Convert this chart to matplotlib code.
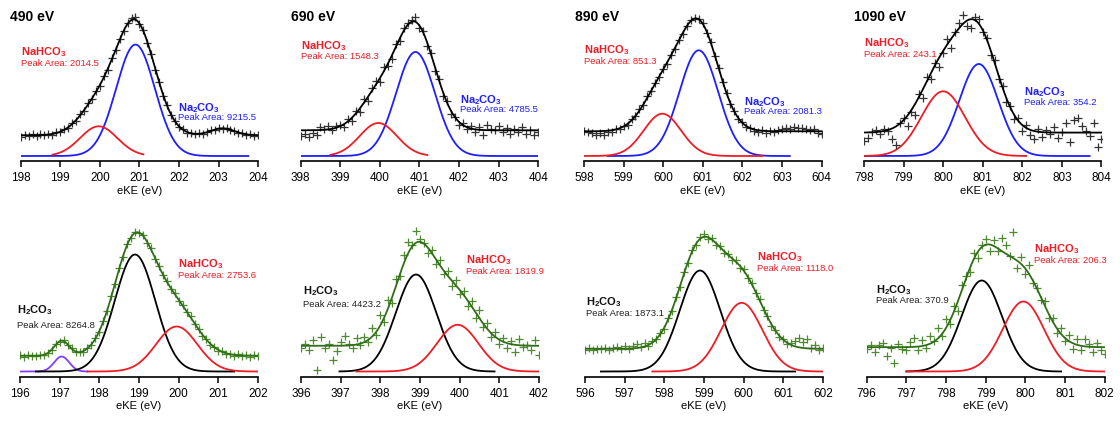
import numpy as np
import matplotlib.pyplot as plt

plt.rcParams['font.family'] = ['Liberation Sans', 'DejaVu Sans']
plt.rcParams['mathtext.fontset'] = 'custom'
plt.rcParams['mathtext.rm'] = 'Liberation Sans'
plt.rcParams['mathtext.bf'] = 'Liberation Sans:bold'

W, H = 1120, 428

# photon energies and kinetic energy windows
photon = ['490 eV', '690 eV', '890 eV', '1090 eV']
x0_top = [198, 398, 598, 798]
x0_bot = [196, 396, 596, 796]
step = 0.1  # spectra sampled every 0.1 eV over a 6 eV window

# measured spectra, top row (arb. units)
top_490 = [19.5, 21.5, 20.2, 21.8, 20.5, 21.6, 20.8, 22.4, 21.5, 23.6,
           24.0, 27.0, 28.2, 33.0, 35.2, 41.8, 45.0, 52.6, 56.8, 65.1,
           70.2, 79.8, 86.4, 97.8, 105.6, 117.3, 124.6, 133.4, 137.8, 139.5,
           132.0, 126.2, 113.2, 102.1, 86.5, 74.2, 60.0, 51.0, 40.6, 35.3,
           29.0, 26.8, 23.5, 23.4, 21.6, 22.7, 22.0, 24.4, 25.6, 25.8,
           28.2, 27.1, 28.0, 25.7, 25.5, 22.9, 23.0, 21.0, 22.0, 20.2, 21.3]
top_690 = [20.5, 22.0, 19.0, 23.5, 20.8, 28.8, 27.5, 30.0, 26.0, 29.8,
           31.5, 28.6, 36.8, 35.0, 45.2, 44.0, 57.5, 55.0, 68.0, 75.0,
           74.5, 89.0, 90.0, 97.0, 112.5, 115.0, 128.0, 133.5, 136.5, 139.0,
           128.0, 125.5, 110.0, 103.5, 85.0, 77.0, 60.0, 55.5, 42.0, 39.5,
           31.5, 33.0, 27.0, 30.5, 24.0, 29.0, 21.5, 31.0, 27.5, 26.0,
           30.5, 24.0, 28.0, 22.5, 27.5, 24.5, 29.0, 22.0, 26.5, 21.0, 24.5]
top_890 = [25.5, 24.0, 23.2, 21.5, 22.8, 21.0, 24.4, 24.0, 27.5, 27.0,
           30.5, 31.5, 37.0, 40.0, 47.0, 51.5, 59.8, 65.2, 73.5, 78.8,
           87.5, 92.5, 101.2, 107.0, 116.0, 122.5, 130.5, 136.0, 138.5, 137.0,
           133.0, 123.5, 114.5, 100.5, 88.5, 74.0, 63.5, 52.0, 45.0, 37.2,
           33.8, 29.2, 28.5, 25.5, 24.2, 26.0, 23.5, 25.0, 24.2, 26.5,
           27.0, 28.5, 27.5, 29.0, 27.8, 28.5, 27.0, 26.0, 27.2, 23.5, 22.5]
top_1090 = [15.5, 18.0, 24.5, 26.0, 22.0, 27.0, 25.5, 17.0, 11.5, 33.5,
            38.0, 30.5, 44.0, 41.5, 62.5, 58.0, 79.0, 77.5, 93.0, 89.0,
            103.0, 117.0, 108.5, 124.5, 133.0, 141.0, 130.5, 128.0, 139.0, 137.5,
            124.0, 118.5, 101.0, 96.5, 77.5, 70.0, 54.0, 50.5, 37.5, 38.0,
            25.0, 31.0, 21.5, 17.5, 27.5, 19.0, 26.0, 22.5, 29.5, 18.0,
            24.5, 33.5, 14.5, 36.5, 38.0, 30.0, 25.0, 20.5, 33.0, 9.5, 17.0]

# measured spectra, bottom row (arb. units)
bot_490 = [16.5, 15.0, 16.8, 15.2, 16.0, 17.0, 16.2, 19.0, 21.5, 27.5,
           29.5, 31.2, 26.5, 23.8, 19.2, 20.0, 19.8, 24.0, 26.5, 33.8,
           39.8, 51.0, 60.5, 75.5, 87.8, 103.5, 114.8, 127.5, 133.5, 140.0,
           138.2, 136.8, 129.0, 123.2, 112.8, 106.0, 96.5, 91.0, 82.8, 78.5,
           71.0, 67.0, 59.5, 55.2, 47.5, 43.0, 36.0, 32.5, 26.8, 25.0,
           21.0, 20.2, 17.6, 18.0, 16.0, 17.2, 15.4, 16.6, 15.0, 16.2, 15.5]
bot_690 = [24.0, 27.5, 22.0, 31.5, 1.5, 34.5, 24.0, 28.0, 12.0, 21.0,
           29.5, 36.0, 27.5, 24.0, 33.5, 26.5, 35.0, 30.0, 44.0, 36.5,
           56.5, 50.0, 72.0, 68.5, 92.5, 96.0, 116.5, 129.5, 127.0, 141.0,
           132.5, 129.0, 118.5, 122.0, 108.0, 112.0, 98.0, 100.5, 86.0, 92.0,
           78.0, 80.5, 66.0, 70.5, 54.0, 61.5, 44.5, 49.0, 35.0, 39.5,
           28.0, 33.5, 23.5, 31.0, 20.0, 33.0, 24.5, 27.0, 21.5, 32.0, 16.5]
bot_890 = [22.0, 23.5, 21.8, 23.0, 22.2, 24.0, 21.5, 23.2, 24.8, 22.5,
           25.5, 23.0, 26.0, 27.8, 25.0, 28.5, 26.0, 30.5, 33.0, 38.5,
           43.0, 53.5, 61.0, 75.0, 84.5, 99.5, 109.0, 121.5, 126.5, 135.0,
           137.5, 133.0, 133.5, 127.0, 125.5, 119.0, 118.0, 112.0, 111.5, 104.0,
           102.5, 93.5, 89.0, 78.5, 72.5, 61.5, 55.5, 46.0, 42.0, 34.5,
           32.5, 27.5, 29.0, 31.0, 34.0, 29.5, 33.0, 24.0, 26.5, 22.0, 23.5]
bot_1090 = [22.5, 27.0, 20.0, 26.5, 29.0, 16.0, 24.0, 8.5, 27.5, 23.0,
            21.5, 30.0, 33.5, 22.0, 31.5, 24.0, 36.0, 30.5, 43.5, 35.5,
            53.0, 48.0, 65.5, 60.5, 87.0, 95.5, 100.0, 118.5, 114.0, 126.5,
            132.5, 121.0, 131.5, 120.5, 134.0, 127.0, 115.5, 139.5, 104.0, 114.5,
            98.0, 107.0, 88.5, 84.0, 72.0, 70.5, 54.0, 53.5, 38.5, 44.0,
            30.5, 37.0, 23.0, 33.0, 21.5, 32.5, 28.0, 19.5, 29.0, 22.0, 18.0]

# fitted background level per panel
top_bg = [20.7, 25.7, 24.7, 23.4]
bot_bg = [15.7, 25.7, 22.7, 24.3]

# gaussian components: (centre, height, sigma, drawn from, drawn to)
top_nahco3 = [(199.97, 29.7, 0.47, 198.8, 201.1), (399.96, 33.0, 0.47, 398.75, 401.2),
              (599.98, 42.3, 0.47, 598.0, 602.5), (800.0, 64.7, 0.55, 798.0, 802.1)]
top_na2co3 = [(200.9, 111.4, 0.49, 198.0, 203.75), (400.9, 104.0, 0.49, 398.0, 404.0),
              (600.9, 105.7, 0.49, 598.6, 603.2), (800.9, 92.0, 0.49, 798.0, 803.7)]
top_extra = [(203.1, 7.0, 0.3), None, None, None]

bot_h2co3 = [(198.9, 117.0, 0.51, 196.4, 201.4), (398.9, 97.0, 0.51, 396.97, 400.88),
             (598.9, 101.0, 0.51, 596.4, 601.3), (798.9, 91.0, 0.51, 797.0, 800.9)]
bot_nahco3 = [(199.95, 45.0, 0.52, 197.7, 202.0), (399.95, 46.7, 0.52, 397.4, 402.0),
              (599.95, 68.7, 0.52, 597.7, 602.0), (799.95, 70.0, 0.52, 797.0, 802.0)]
bot_extra = [(197.05, 15.0, 0.19, 196.0, 197.7), None, None, None]

top_nahco3_area = ['2014.5', '1548.3', '851.3', '243.1']
top_na2co3_area = ['9215.5', '4785.5', '2081.3', '354.2']
bot_h2co3_area = ['8264.8', '4423.2', '1873.1', '370.9']
bot_nahco3_area = ['2753.6', '1819.9', '1118.0', '206.3']

RED = '#ee1c25'
BLUE = '#1e1eff'
PURPLE = '#7f3fff'
DKGREEN = '#2f6e17'
LTGREEN = '#4f8a30'


def gauss(x, c, h, s):
    return h * np.exp(-(x - c) ** 2 / (2 * s ** 2))


def comp_line(ax, p, color):
    c, h, s, lo, hi = p
    xx = np.linspace(lo, hi, 300)
    ax.plot(xx, gauss(xx, c, h, s), color=color, lw=1.3, zorder=2)


def setup(ax, x0):
    ax.set_xlim(x0, x0 + 6)
    ax.set_ylim(-5, 148)
    for s in ['left', 'right', 'top']:
        ax.spines[s].set_visible(False)
    ax.spines['bottom'].set_linewidth(1.2)
    ax.set_yticks([])
    ax.set_xticks(np.arange(x0, x0 + 7))
    ax.tick_params(axis='x', direction='out', length=4, width=1.1, pad=4, labelsize=8.5)
    ax.set_xlabel('eKE (eV)', fontsize=8, labelpad=1)
    ax.patch.set_alpha(0)


def px(x, y):
    return x / W, 1 - y / H


fig = plt.figure(figsize=(W / 100, H / 100), dpi=100)

top_left = [20.7, 300.7, 584, 864]
bot_left = [20, 301, 585, 866.7]
top_data = [top_490, top_690, top_890, top_1090]
bot_data = [bot_490, bot_690, bot_890, bot_1090]

for i in range(4):
    # ---- top row ----
    ax = fig.add_axes([top_left[i] / W, (H - 161) / H, 237.5 / W, 153 / H])
    x0 = x0_top[i]
    xd = x0 + step * np.arange(len(top_data[i]))
    xf = np.linspace(x0, x0 + 6, 400)
    fit = top_bg[i] + gauss(xf, *top_nahco3[i][:3]) + gauss(xf, *top_na2co3[i][:3])
    if top_extra[i]:
        fit = fit + gauss(xf, *top_extra[i])
    comp_line(ax, top_na2co3[i], BLUE)
    comp_line(ax, top_nahco3[i], RED)
    ax.plot(xd, top_data[i], '+', color='#333333', ms=5.5, mew=0.9, zorder=3)
    ax.plot(xf, fit, color='black', lw=1.3, zorder=4)
    setup(ax, x0)

    # ---- bottom row ----
    ax = fig.add_axes([bot_left[i] / W, (H - 376.5) / H, 238 / W, 153 / H])
    x0 = x0_bot[i]
    xd = x0 + step * np.arange(len(bot_data[i]))
    xf = np.linspace(x0, x0 + 6, 400)
    fit = bot_bg[i] + gauss(xf, *bot_h2co3[i][:3]) + gauss(xf, *bot_nahco3[i][:3])
    if bot_extra[i]:
        fit = fit + gauss(xf, *bot_extra[i][:3])
        comp_line(ax, bot_extra[i], PURPLE)
    comp_line(ax, bot_h2co3[i], 'black')
    comp_line(ax, bot_nahco3[i], RED)
    ax.plot(xd, bot_data[i], '+', color=LTGREEN, ms=5.5, mew=0.9, zorder=3)
    ax.plot(xf, fit, color=DKGREEN, lw=1.3, zorder=4)
    setup(ax, x0)

# panel titles
title_x = [10, 291, 575, 854]
for i in range(4):
    fig.text(*px(title_x[i], 17), photon[i], fontsize=10, fontweight='bold',
             ha='left', va='center')

# component labels
top_red_pos = [(20.7, 52.5), (300.7, 46), (584, 50), (864.3, 43.5)]
top_blue_pos = [(178, 108), (460, 100), (743.5, 101.7), (1024.5, 92.5)]
bot_blk_pos = [(16.7, 310, 325), (302.7, 290.7, 304.3), (586, 302.3, 314), (876, 290, 300.7)]
bot_red_pos = [(177.7, 264), (466, 260), (756.7, 257.3), (1034, 249.3)]

for i in range(4):
    x, y = top_red_pos[i]
    fig.text(*px(x, y), r'$\mathbf{NaHCO_3}$', color=RED, fontsize=8, ha='left', va='center')
    fig.text(*px(x, y + 11), 'Peak Area: ' + top_nahco3_area[i], color=RED,
             fontsize=6.8, ha='left', va='center')
    x, y = top_blue_pos[i]
    fig.text(*px(x, y), r'$\mathbf{Na_2CO_3}$', color=BLUE, fontsize=8, ha='left', va='center')
    fig.text(*px(x, y + 10), 'Peak Area: ' + top_na2co3_area[i], color=BLUE,
             fontsize=6.8, ha='left', va='center')

    x, y, y2 = bot_blk_pos[i]
    fig.text(*px(x, y), r'$\mathbf{H_2CO_3}$', color='#111111', fontsize=8, ha='left', va='center')
    fig.text(*px(x, y2), 'Peak Area: ' + bot_h2co3_area[i], color='#222222',
             fontsize=6.8, ha='left', va='center')
    x, y = bot_red_pos[i]
    fig.text(*px(x, y), r'$\mathbf{NaHCO_3}$', color=RED, fontsize=8, ha='left', va='center')
    fig.text(*px(x, y + 11.5), 'Peak Area: ' + bot_nahco3_area[i], color=RED,
             fontsize=6.8, ha='left', va='center')

fig.savefig('out.png', dpi=100)
